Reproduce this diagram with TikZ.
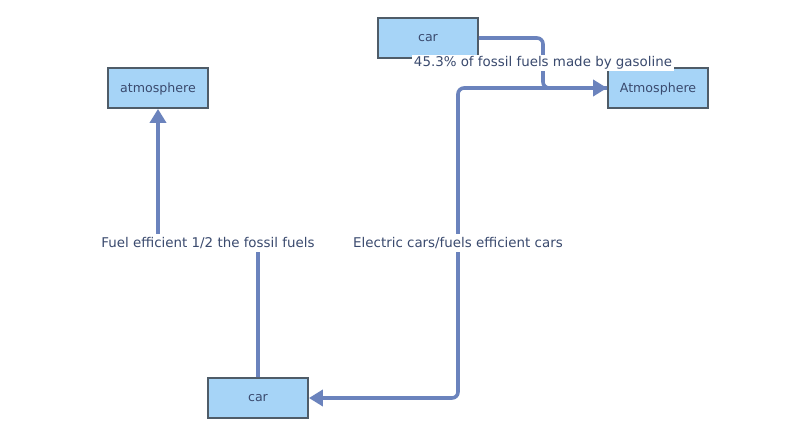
\documentclass[tikz,border=0pt]{standalone}
\usepackage{fontspec}
\setmainfont{DejaVu Sans}
\usetikzlibrary{arrows.meta}
\definecolor{boxfill}{HTML}{A6D4F7}
\definecolor{boxline}{HTML}{4F5C68}
\definecolor{conn}{HTML}{6B83BD}
\definecolor{txt}{HTML}{3A4A6E}
\tikzset{
  box/.style={draw=boxline, line width=1.8pt, fill=boxfill, minimum width=100pt, minimum height=40pt, inner sep=0pt, text=txt, font=\fontsize{12.6}{14}\selectfont, text depth=0pt},
  link/.style={draw=conn, line width=3.6pt, rounded corners=6pt, -{Triangle[width=16pt,length=14pt]}},
  lbl/.style={fill=white, text=txt, inner xsep=1.5pt, inner ysep=3.5pt, font=\fontsize{13.4}{15}\selectfont}
}
\begin{document}
\begin{tikzpicture}[x=1pt,y=-1pt]
\useasboundingbox[fill=white] (0,0) rectangle (800,436);
\node[box] (atmL) at (158,88) {atmosphere};
\node[box] (carT) at (428,38) {car};
\node[box] (atmR) at (658,88) {Atmosphere};
\node[box] (carB) at (258,398) {car};
\coordinate (j1) at (543,88);
\draw[link] (carT.east) -| (j1) -- (atmR.west);
\draw[link] (atmR.west) -- (458,88) -- (458,398) -- (carB.east);
\draw[link] (carB.north) -- (258,243) -- (158,243) -- (atmL.south);
\node[lbl, inner ysep=1.5pt] (l3) at (543,63) {45.3\% of fossil fuels made by gasoline};
\node[lbl] (l1) at (208,243) {Fuel efficient 1/2 the fossil fuels};
\node[lbl] (l2) at (458,243) {Electric cars/fuels efficient cars};
\end{tikzpicture}
\end{document}
